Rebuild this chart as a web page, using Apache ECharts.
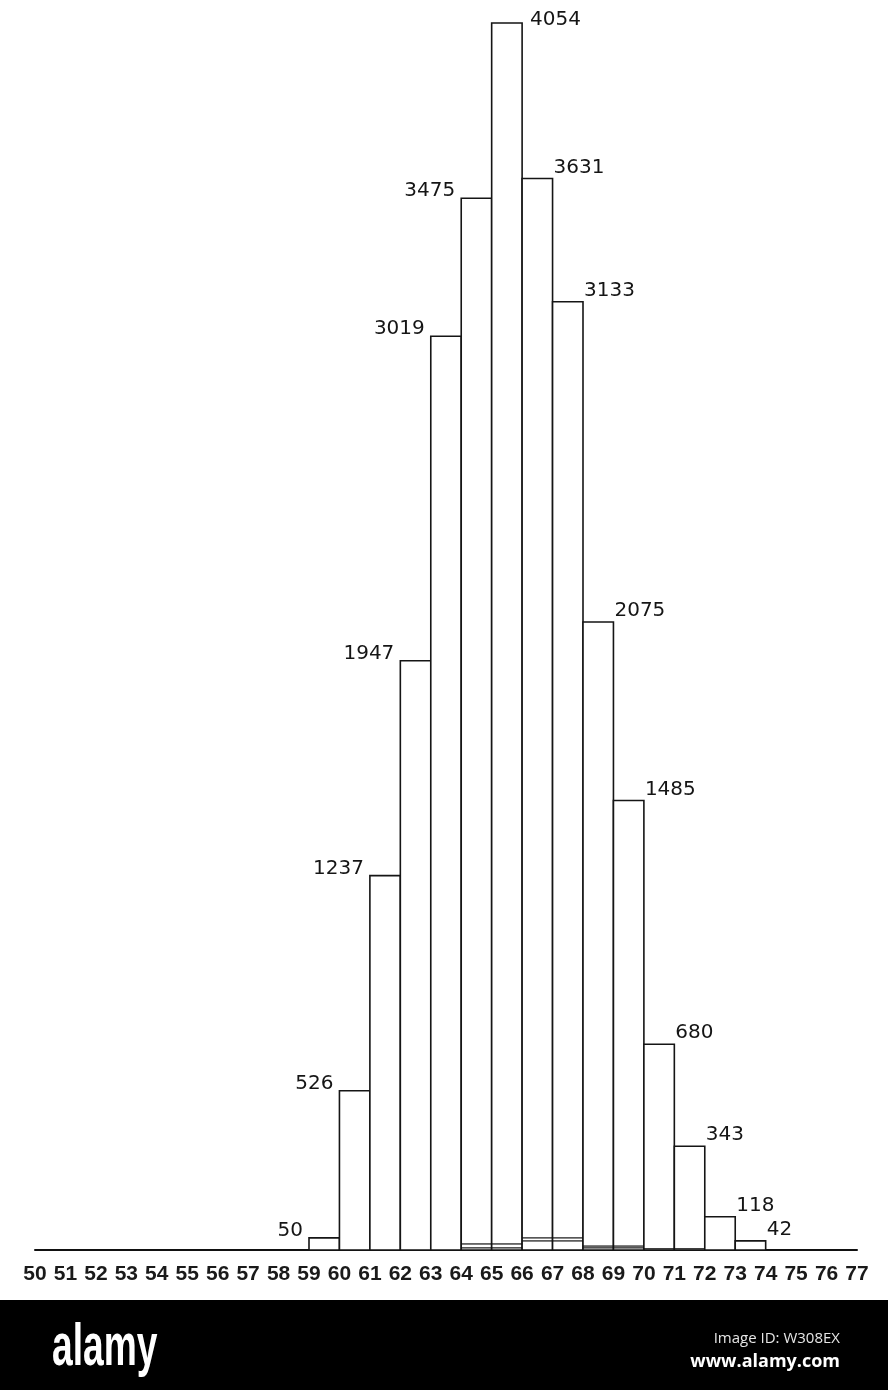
<!DOCTYPE html>
<html>
<head>
<meta charset="utf-8">
<script src="https://cdn.jsdelivr.net/npm/echarts@6/dist/echarts.min.js"></script>
<style>
html,body{margin:0;padding:0;background:#fff;}
#chart{width:888px;height:1390px;}
</style>
</head>
<body>
<div id="chart"></div>
<script>
// Axis tick labels (inches), 50 .. 77
const tickLabels = ['50','51','52','53','54','55','56','57','58','59','60','61','62','63','64','65','66','67','68','69','70','71','72','73','74','75','76','77'];
// Left edge of each bar (class start)
const binStarts = [59,60,61,62,63,64,65,66,67,68,69,70,71,72,73];
// Printed counts above each bar
const countLabels = [50,526,1237,1947,3019,3475,4054,3631,3133,2075,1485,680,343,118,42];
// Bar heights as drawn in the picture
const barHeights = [40,526,1237,1947,3019,3475,4054,3540,3133,2075,1485,680,343,110,30];
// Small inner strips near the base of some bars (levels)
const stripBins = [64,65,66,67,68,69,70,71];
const stripLevels = [[20,7],[20,7],[40,30,20,7],[40,30,20,7],[13,7],[13,7],[4],[4]];

const chart = echarts.init(document.getElementById('chart'));
const peakStart = 65;

const barData = binStarts.map((s,i)=>[s, barHeights[i], countLabels[i]]);
const stripData = stripBins.map((s,i)=>[s].concat(stripLevels[i]));

chart.setOption({
  backgroundColor:'#ffffff',
  animation:false,
  grid:{left:35,right:31,top:23,bottom:140},
  xAxis:{
    type:'value', min:50, max:77, interval:1,
    axisLine:{show:true,lineStyle:{color:'#111',width:2}},
    axisTick:{show:false},
    splitLine:{show:false},
    axisLabel:{
      margin:14,
      color:'#1a1a1a',
      fontFamily:'Liberation Sans',
      fontSize:21,
      fontWeight:'bold',
      showMinLabel:true, showMaxLabel:true,
      formatter:(v)=>{const k=Math.round(v)-50; return tickLabels[k]!==undefined?tickLabels[k]:'';}
    }
  },
  yAxis:{type:'value',min:0,max:4054,show:false,splitLine:{show:false}},
  series:[
    {
      type:'custom',
      clip:false,
      data:barData,
      renderItem:(params, api)=>{
        const x0 = api.value(0), h = api.value(1), lab = api.value(2);
        const pTop = api.coord([x0,h]);
        const pBase = api.coord([x0+1,0]);
        const w = pBase[0]-pTop[0];
        const ht = pBase[1]-pTop[1];
        const left = x0 < peakStart;
        const peak = x0 === peakStart;
        return {
          type:'group',
          children:[
            {type:'rect', shape:{x:pTop[0], y:pTop[1], width:w, height:ht},
             style:{fill:'#ffffff', stroke:'#151515', lineWidth:1.6}},
            {type:'text',
             style:{
               text:String(lab),
               x: left ? pTop[0]-6 : pBase[0]+(peak?8:1),
               y: left ? pTop[1]-7 : pTop[1]-(peak?3:11),
               align: left ? 'right' : 'left',
               verticalAlign:'middle',
               fill:'#151515',
               font:'20px "DejaVu Sans"'
             }}
          ]
        };
      }
    },
    {
      type:'custom',
      clip:false,
      data:stripData,
      renderItem:(params, api)=>{
        const x0 = api.value(0);
        const n = stripData[params.dataIndex].length-1;
        const children=[];
        for(let k=1;k<=n;k++){
          const v = api.value(k);
          const a = api.coord([x0, v]);
          const b = api.coord([x0+1, v]);
          children.push({type:'line', shape:{x1:a[0], y1:a[1], x2:b[0], y2:b[1]},
            style:{stroke:'#111', lineWidth:1.2}});
        }
        return {type:'group', children};
      }
    }
  ],
  graphic:[
    {type:'rect', left:0, top:1300, shape:{width:888,height:90}, style:{fill:'#000'}},
    {type:'text', left:52, top:1318, scaleX:0.62,
     style:{text:'alamy', fill:'#fff', font:'bold 60px "Liberation Sans"'}},
    {type:'text', right:48, top:1331,
     style:{text:'Image ID: W308EX', fill:'#e6e6e6', font:'15px "Open Sans"'}},
    {type:'text', right:48, top:1353,
     style:{text:'www.alamy.com', fill:'#fff', font:'bold 18px "Open Sans"'}}
  ]
});
</script>
</body>
</html>
